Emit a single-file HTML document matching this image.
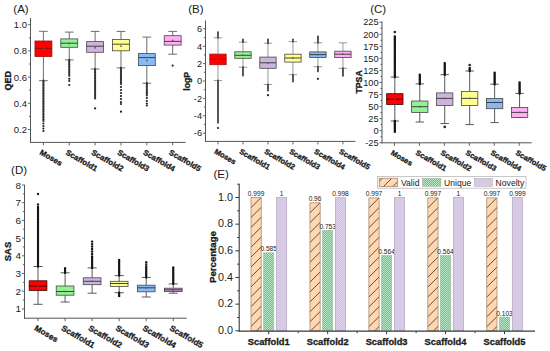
<!DOCTYPE html><html><head><meta charset="utf-8"><style>html,body{margin:0;padding:0;background:#fff;overflow:hidden}svg{display:block}text{font-family:"Liberation Sans", sans-serif}</style></head><body>
<svg width="550" height="351" viewBox="0 0 550 351">
<defs><pattern id="hatch" patternUnits="userSpaceOnUse" width="12" height="12" patternTransform="rotate(0)"><rect width="12" height="12" fill="#ffd9b0"/><path d="M-3,3 L3,-3 M0,12 L12,0 M9,15 L15,9" stroke="#5a4a3a" stroke-width="0.8"/></pattern><pattern id="dots" patternUnits="userSpaceOnUse" width="2" height="2"><rect width="2" height="2" fill="#6cc08a"/><rect width="1" height="1" fill="#b6e8c6"/><rect x="1" y="1" width="1" height="1" fill="#b6e8c6"/></pattern><pattern id="cross" patternUnits="userSpaceOnUse" width="2" height="2"><rect width="2" height="2" fill="#d2c3e3"/><rect width="1" height="1" fill="#dcd0eb"/><rect x="1" y="1" width="1" height="1" fill="#dcd0eb"/></pattern></defs>
<rect width="550" height="351" fill="#fff"/>
<line x1="43.42" y1="31.3" x2="43.42" y2="41" stroke="#6e6e6e" stroke-width="1"/>
<line x1="43.42" y1="56.5" x2="43.42" y2="80.7" stroke="#6e6e6e" stroke-width="1"/>
<line x1="39.08" y1="31.3" x2="47.77" y2="31.3" stroke="#6e6e6e" stroke-width="1"/>
<line x1="39.08" y1="80.7" x2="47.77" y2="80.7" stroke="#6e6e6e" stroke-width="1"/>
<rect x="42.72" y="80.7" width="1.4" height="40.3" fill="#444" stroke="none" stroke-width="0"/>
<path d="M43.42,80.7h0 M43.42,82.31h0 M43.42,83.92h0 M43.42,85.54h0 M43.42,87.15h0 M43.42,88.76h0 M43.42,90.37h0 M43.42,91.98h0 M43.42,93.6h0 M43.42,95.21h0 M43.42,96.82h0 M43.42,98.43h0 M43.42,100.04h0 M43.42,101.66h0 M43.42,103.27h0 M43.42,104.88h0 M43.42,106.49h0 M43.42,108.1h0 M43.42,109.72h0 M43.42,111.33h0 M43.42,112.94h0 M43.42,114.55h0 M43.42,116.16h0 M43.42,117.78h0 M43.42,119.39h0 M43.42,121h0" stroke="#303030" stroke-width="2.2" stroke-linecap="round"/>
<circle cx="43.42" cy="123.5" r="1.1" fill="#222222"/>
<circle cx="43.42" cy="126" r="1.1" fill="#222222"/>
<circle cx="43.42" cy="128.5" r="1.1" fill="#222222"/>
<circle cx="43.42" cy="131" r="1.1" fill="#222222"/>
<rect x="34.96" y="41" width="16.93" height="15.5" fill="#ff0000" stroke="#9a1010" stroke-width="0.8"/>
<line x1="34.96" y1="48.4" x2="51.89" y2="48.4" stroke="#8a0a0a" stroke-width="0.9"/>
<rect x="42.67" y="48.05" width="1.5" height="1.5" fill="#555"/>
<line x1="69.28" y1="32.1" x2="69.28" y2="38.9" stroke="#6e6e6e" stroke-width="1"/>
<line x1="69.28" y1="47.3" x2="69.28" y2="59.9" stroke="#6e6e6e" stroke-width="1"/>
<line x1="64.93" y1="32.1" x2="73.62" y2="32.1" stroke="#6e6e6e" stroke-width="1"/>
<line x1="64.93" y1="59.9" x2="73.62" y2="59.9" stroke="#6e6e6e" stroke-width="1"/>
<rect x="68.58" y="59.9" width="1.4" height="15.9" fill="#444" stroke="none" stroke-width="0"/>
<path d="M69.28,59.9h0 M69.28,61.49h0 M69.28,63.08h0 M69.28,64.67h0 M69.28,66.26h0 M69.28,67.85h0 M69.28,69.44h0 M69.28,71.03h0 M69.28,72.62h0 M69.28,74.21h0 M69.28,75.8h0" stroke="#303030" stroke-width="2.2" stroke-linecap="round"/>
<circle cx="69.28" cy="78.8" r="1.1" fill="#222222"/>
<circle cx="69.28" cy="81" r="1.1" fill="#222222"/>
<circle cx="69.28" cy="85" r="1.1" fill="#222222"/>
<rect x="60.81" y="38.9" width="16.93" height="8.4" fill="#94f094" stroke="#474747" stroke-width="0.8"/>
<line x1="60.81" y1="43.2" x2="77.74" y2="43.2" stroke="#333" stroke-width="0.9"/>
<rect x="68.53" y="42.75" width="1.5" height="1.5" fill="#555"/>
<line x1="95.12" y1="31.4" x2="95.12" y2="41.6" stroke="#6e6e6e" stroke-width="1"/>
<line x1="95.12" y1="52.3" x2="95.12" y2="69" stroke="#6e6e6e" stroke-width="1"/>
<line x1="90.78" y1="31.4" x2="99.47" y2="31.4" stroke="#6e6e6e" stroke-width="1"/>
<line x1="90.78" y1="69" x2="99.47" y2="69" stroke="#6e6e6e" stroke-width="1"/>
<rect x="94.42" y="69" width="1.4" height="29.5" fill="#444" stroke="none" stroke-width="0"/>
<path d="M95.12,69h0 M95.12,70.64h0 M95.12,72.28h0 M95.12,73.92h0 M95.12,75.56h0 M95.12,77.19h0 M95.12,78.83h0 M95.12,80.47h0 M95.12,82.11h0 M95.12,83.75h0 M95.12,85.39h0 M95.12,87.03h0 M95.12,88.67h0 M95.12,90.31h0 M95.12,91.94h0 M95.12,93.58h0 M95.12,95.22h0 M95.12,96.86h0 M95.12,98.5h0" stroke="#303030" stroke-width="2.2" stroke-linecap="round"/>
<circle cx="95.12" cy="108.4" r="1.1" fill="#222222"/>
<rect x="86.66" y="41.6" width="16.93" height="10.7" fill="#ccb4de" stroke="#474747" stroke-width="0.8"/>
<line x1="86.66" y1="46.2" x2="103.59" y2="46.2" stroke="#333" stroke-width="0.9"/>
<rect x="94.38" y="47.05" width="1.5" height="1.5" fill="#555"/>
<line x1="120.97" y1="31.4" x2="120.97" y2="39.4" stroke="#6e6e6e" stroke-width="1"/>
<line x1="120.97" y1="50.8" x2="120.97" y2="67.9" stroke="#6e6e6e" stroke-width="1"/>
<line x1="116.63" y1="31.4" x2="125.32" y2="31.4" stroke="#6e6e6e" stroke-width="1"/>
<line x1="116.63" y1="67.9" x2="125.32" y2="67.9" stroke="#6e6e6e" stroke-width="1"/>
<rect x="120.27" y="67.9" width="1.4" height="16.2" fill="#444" stroke="none" stroke-width="0"/>
<path d="M120.97,67.9h0 M120.97,69.52h0 M120.97,71.14h0 M120.97,72.76h0 M120.97,74.38h0 M120.97,76h0 M120.97,77.62h0 M120.97,79.24h0 M120.97,80.86h0 M120.97,82.48h0 M120.97,84.1h0" stroke="#303030" stroke-width="2.2" stroke-linecap="round"/>
<circle cx="120.97" cy="87" r="1.1" fill="#222222"/>
<circle cx="120.97" cy="90" r="1.1" fill="#222222"/>
<circle cx="120.97" cy="93" r="1.1" fill="#222222"/>
<circle cx="120.97" cy="96" r="1.1" fill="#222222"/>
<circle cx="120.97" cy="99" r="1.1" fill="#222222"/>
<circle cx="120.97" cy="102" r="1.1" fill="#222222"/>
<circle cx="120.97" cy="104" r="1.1" fill="#222222"/>
<circle cx="120.97" cy="111.7" r="1.1" fill="#222222"/>
<rect x="112.51" y="39.4" width="16.93" height="11.4" fill="#ffff8e" stroke="#474747" stroke-width="0.8"/>
<line x1="112.51" y1="44.2" x2="129.44" y2="44.2" stroke="#333" stroke-width="0.9"/>
<rect x="120.22" y="45.45" width="1.5" height="1.5" fill="#555"/>
<line x1="146.82" y1="37.1" x2="146.82" y2="53.6" stroke="#6e6e6e" stroke-width="1"/>
<line x1="146.82" y1="65.6" x2="146.82" y2="83.2" stroke="#6e6e6e" stroke-width="1"/>
<line x1="142.48" y1="37.1" x2="151.17" y2="37.1" stroke="#6e6e6e" stroke-width="1"/>
<line x1="142.48" y1="83.2" x2="151.17" y2="83.2" stroke="#6e6e6e" stroke-width="1"/>
<rect x="146.12" y="83.2" width="1.4" height="12.3" fill="#444" stroke="none" stroke-width="0"/>
<path d="M146.82,83.2h0 M146.82,84.74h0 M146.82,86.28h0 M146.82,87.81h0 M146.82,89.35h0 M146.82,90.89h0 M146.82,92.42h0 M146.82,93.96h0 M146.82,95.5h0" stroke="#303030" stroke-width="2.2" stroke-linecap="round"/>
<circle cx="146.82" cy="98" r="1.1" fill="#222222"/>
<circle cx="146.82" cy="101" r="1.1" fill="#222222"/>
<circle cx="146.82" cy="103.5" r="1.1" fill="#222222"/>
<circle cx="146.82" cy="105.5" r="1.1" fill="#222222"/>
<rect x="138.36" y="53.6" width="16.93" height="12" fill="#88b8f5" stroke="#474747" stroke-width="0.8"/>
<line x1="138.36" y1="57.6" x2="155.29" y2="57.6" stroke="#333" stroke-width="0.9"/>
<rect x="146.07" y="59.75" width="1.5" height="1.5" fill="#555"/>
<line x1="172.67" y1="31.4" x2="172.67" y2="35.7" stroke="#6e6e6e" stroke-width="1"/>
<line x1="172.67" y1="45.1" x2="172.67" y2="54.2" stroke="#6e6e6e" stroke-width="1"/>
<line x1="168.33" y1="31.4" x2="177.02" y2="31.4" stroke="#6e6e6e" stroke-width="1"/>
<line x1="168.33" y1="54.2" x2="177.02" y2="54.2" stroke="#6e6e6e" stroke-width="1"/>
<circle cx="172.67" cy="65.6" r="1.1" fill="#222222"/>
<rect x="164.21" y="35.7" width="16.93" height="9.4" fill="#ffaef4" stroke="#474747" stroke-width="0.8"/>
<line x1="164.21" y1="41.4" x2="181.14" y2="41.4" stroke="#333" stroke-width="0.9"/>
<rect x="171.92" y="39.75" width="1.5" height="1.5" fill="#555"/>
<line x1="30.5" y1="18" x2="30.5" y2="142.9" stroke="#555555" stroke-width="1"/>
<line x1="30" y1="142.4" x2="185.6" y2="142.4" stroke="#555555" stroke-width="1"/>
<line x1="27.9" y1="24.7" x2="30.5" y2="24.7" stroke="#555555" stroke-width="0.9"/>
<text x="27" y="28.12" font-size="9.51" text-anchor="end" fill="#1a1a1a">1.0</text>
<line x1="27.9" y1="50.9" x2="30.5" y2="50.9" stroke="#555555" stroke-width="0.9"/>
<text x="27" y="54.32" font-size="9.51" text-anchor="end" fill="#1a1a1a">0.8</text>
<line x1="27.9" y1="77.1" x2="30.5" y2="77.1" stroke="#555555" stroke-width="0.9"/>
<text x="27" y="80.52" font-size="9.51" text-anchor="end" fill="#1a1a1a">0.6</text>
<line x1="27.9" y1="103.3" x2="30.5" y2="103.3" stroke="#555555" stroke-width="0.9"/>
<text x="27" y="106.72" font-size="9.51" text-anchor="end" fill="#1a1a1a">0.4</text>
<line x1="27.9" y1="129.5" x2="30.5" y2="129.5" stroke="#555555" stroke-width="0.9"/>
<text x="27" y="132.92" font-size="9.51" text-anchor="end" fill="#1a1a1a">0.2</text>
<line x1="28.9" y1="37.8" x2="30.5" y2="37.8" stroke="#555555" stroke-width="0.9"/>
<line x1="28.9" y1="64" x2="30.5" y2="64" stroke="#555555" stroke-width="0.9"/>
<line x1="28.9" y1="90.2" x2="30.5" y2="90.2" stroke="#555555" stroke-width="0.9"/>
<line x1="28.9" y1="116.4" x2="30.5" y2="116.4" stroke="#555555" stroke-width="0.9"/>
<line x1="43.42" y1="142.4" x2="43.42" y2="145.4" stroke="#555555" stroke-width="0.9"/>
<line x1="69.28" y1="142.4" x2="69.28" y2="145.4" stroke="#555555" stroke-width="0.9"/>
<line x1="95.12" y1="142.4" x2="95.12" y2="145.4" stroke="#555555" stroke-width="0.9"/>
<line x1="120.97" y1="142.4" x2="120.97" y2="145.4" stroke="#555555" stroke-width="0.9"/>
<line x1="146.82" y1="142.4" x2="146.82" y2="145.4" stroke="#555555" stroke-width="0.9"/>
<line x1="172.67" y1="142.4" x2="172.67" y2="145.4" stroke="#555555" stroke-width="0.9"/>
<text x="39.12" y="153.9" font-size="7.86" text-anchor="start" font-weight="bold" stroke="#1a1a1a" stroke-width="0.3" fill="#1a1a1a" transform="rotate(30 39.12 153.9)">Moses</text>
<text x="64.98" y="153.9" font-size="7.86" text-anchor="start" font-weight="bold" stroke="#1a1a1a" stroke-width="0.3" fill="#1a1a1a" transform="rotate(30 64.98 153.9)">Scaffold1</text>
<text x="90.83" y="153.9" font-size="7.86" text-anchor="start" font-weight="bold" stroke="#1a1a1a" stroke-width="0.3" fill="#1a1a1a" transform="rotate(30 90.83 153.9)">Scaffold2</text>
<text x="116.67" y="153.9" font-size="7.86" text-anchor="start" font-weight="bold" stroke="#1a1a1a" stroke-width="0.3" fill="#1a1a1a" transform="rotate(30 116.67 153.9)">Scaffold3</text>
<text x="142.52" y="153.9" font-size="7.86" text-anchor="start" font-weight="bold" stroke="#1a1a1a" stroke-width="0.3" fill="#1a1a1a" transform="rotate(30 142.52 153.9)">Scaffold4</text>
<text x="168.37" y="153.9" font-size="7.86" text-anchor="start" font-weight="bold" stroke="#1a1a1a" stroke-width="0.3" fill="#1a1a1a" transform="rotate(30 168.37 153.9)">Scaffold5</text>
<text x="11.2" y="80.8" font-size="9.05" text-anchor="middle" font-weight="bold" stroke="#1a1a1a" stroke-width="0.3" fill="#1a1a1a" transform="rotate(-90 11.2 80.8)">QED</text>
<text x="13.3" y="12.9" font-size="11.5" text-anchor="start" fill="#1a1a1a">(A)</text>
<line x1="217.99" y1="37.8" x2="217.99" y2="54.1" stroke="#9a9a9a" stroke-width="1"/>
<line x1="217.99" y1="64.7" x2="217.99" y2="80.6" stroke="#9a9a9a" stroke-width="1"/>
<line x1="213.79" y1="37.8" x2="222.19" y2="37.8" stroke="#9a9a9a" stroke-width="1"/>
<line x1="213.79" y1="80.6" x2="222.19" y2="80.6" stroke="#9a9a9a" stroke-width="1"/>
<rect x="217.29" y="32.2" width="1.4" height="5.6" fill="#666" stroke="none" stroke-width="0"/>
<path d="M217.99,32.2h0 M217.99,34.07h0 M217.99,35.93h0 M217.99,37.8h0" stroke="#4a4a4a" stroke-width="2" stroke-linecap="round"/>
<rect x="217.29" y="80.6" width="1.4" height="42.1" fill="#666" stroke="none" stroke-width="0"/>
<path d="M217.99,80.6h0 M217.99,82.22h0 M217.99,83.84h0 M217.99,85.46h0 M217.99,87.08h0 M217.99,88.7h0 M217.99,90.32h0 M217.99,91.93h0 M217.99,93.55h0 M217.99,95.17h0 M217.99,96.79h0 M217.99,98.41h0 M217.99,100.03h0 M217.99,101.65h0 M217.99,103.27h0 M217.99,104.89h0 M217.99,106.51h0 M217.99,108.13h0 M217.99,109.75h0 M217.99,111.37h0 M217.99,112.98h0 M217.99,114.6h0 M217.99,116.22h0 M217.99,117.84h0 M217.99,119.46h0 M217.99,121.08h0 M217.99,122.7h0" stroke="#4a4a4a" stroke-width="2" stroke-linecap="round"/>
<circle cx="217.99" cy="128" r="1.1" fill="#222222"/>
<rect x="209.81" y="54.1" width="16.36" height="10.6" fill="#ff0000" stroke="#a01010" stroke-width="0.8"/>
<line x1="209.81" y1="59.2" x2="226.17" y2="59.2" stroke="#b80000" stroke-width="0.9"/>
<rect x="217.24" y="58.45" width="1.5" height="1.5" fill="#555"/>
<line x1="242.97" y1="42.1" x2="242.97" y2="51.8" stroke="#9a9a9a" stroke-width="1"/>
<line x1="242.97" y1="58.3" x2="242.97" y2="67.2" stroke="#9a9a9a" stroke-width="1"/>
<line x1="238.78" y1="42.1" x2="247.17" y2="42.1" stroke="#9a9a9a" stroke-width="1"/>
<line x1="238.78" y1="67.2" x2="247.17" y2="67.2" stroke="#9a9a9a" stroke-width="1"/>
<rect x="242.28" y="39.5" width="1.4" height="2.6" fill="#666" stroke="none" stroke-width="0"/>
<path d="M242.97,39.5h0 M242.97,40.8h0 M242.97,42.1h0" stroke="#4a4a4a" stroke-width="2" stroke-linecap="round"/>
<rect x="242.28" y="67.2" width="1.4" height="8.2" fill="#666" stroke="none" stroke-width="0"/>
<path d="M242.97,67.2h0 M242.97,68.84h0 M242.97,70.48h0 M242.97,72.12h0 M242.97,73.76h0 M242.97,75.4h0" stroke="#4a4a4a" stroke-width="2" stroke-linecap="round"/>
<rect x="234.79" y="51.8" width="16.36" height="6.5" fill="#94f094" stroke="#474747" stroke-width="0.8"/>
<line x1="234.79" y1="55.3" x2="251.16" y2="55.3" stroke="#333" stroke-width="0.9"/>
<rect x="242.22" y="54.55" width="1.5" height="1.5" fill="#555"/>
<line x1="267.96" y1="43.2" x2="267.96" y2="57.1" stroke="#9a9a9a" stroke-width="1"/>
<line x1="267.96" y1="68.3" x2="267.96" y2="84.5" stroke="#9a9a9a" stroke-width="1"/>
<line x1="263.76" y1="43.2" x2="272.16" y2="43.2" stroke="#9a9a9a" stroke-width="1"/>
<line x1="263.76" y1="84.5" x2="272.16" y2="84.5" stroke="#9a9a9a" stroke-width="1"/>
<rect x="267.26" y="39.4" width="1.4" height="3.8" fill="#666" stroke="none" stroke-width="0"/>
<path d="M267.96,39.4h0 M267.96,41.3h0 M267.96,43.2h0" stroke="#4a4a4a" stroke-width="2" stroke-linecap="round"/>
<rect x="267.26" y="84.5" width="1.4" height="6.1" fill="#666" stroke="none" stroke-width="0"/>
<path d="M267.96,84.5h0 M267.96,86.03h0 M267.96,87.55h0 M267.96,89.07h0 M267.96,90.6h0" stroke="#4a4a4a" stroke-width="2" stroke-linecap="round"/>
<circle cx="267.96" cy="95.2" r="1.1" fill="#222222"/>
<rect x="259.78" y="57.1" width="16.36" height="11.2" fill="#ccb4de" stroke="#474747" stroke-width="0.8"/>
<line x1="259.78" y1="62.8" x2="276.14" y2="62.8" stroke="#333" stroke-width="0.9"/>
<rect x="267.21" y="62.05" width="1.5" height="1.5" fill="#555"/>
<line x1="292.94" y1="41.6" x2="292.94" y2="54.2" stroke="#9a9a9a" stroke-width="1"/>
<line x1="292.94" y1="62.1" x2="292.94" y2="74.7" stroke="#9a9a9a" stroke-width="1"/>
<line x1="288.74" y1="41.6" x2="297.14" y2="41.6" stroke="#9a9a9a" stroke-width="1"/>
<line x1="288.74" y1="74.7" x2="297.14" y2="74.7" stroke="#9a9a9a" stroke-width="1"/>
<rect x="292.24" y="39.4" width="1.4" height="2.2" fill="#666" stroke="none" stroke-width="0"/>
<path d="M292.94,39.4h0 M292.94,41.6h0" stroke="#4a4a4a" stroke-width="2" stroke-linecap="round"/>
<rect x="292.24" y="74.7" width="1.4" height="6.8" fill="#666" stroke="none" stroke-width="0"/>
<path d="M292.94,74.7h0 M292.94,76.4h0 M292.94,78.1h0 M292.94,79.8h0 M292.94,81.5h0" stroke="#4a4a4a" stroke-width="2" stroke-linecap="round"/>
<rect x="284.76" y="54.2" width="16.36" height="7.9" fill="#ffff8e" stroke="#474747" stroke-width="0.8"/>
<line x1="284.76" y1="58" x2="301.12" y2="58" stroke="#333" stroke-width="0.9"/>
<rect x="292.19" y="57.25" width="1.5" height="1.5" fill="#555"/>
<line x1="317.92" y1="42.8" x2="317.92" y2="51.9" stroke="#9a9a9a" stroke-width="1"/>
<line x1="317.92" y1="57.6" x2="317.92" y2="66.7" stroke="#9a9a9a" stroke-width="1"/>
<line x1="313.73" y1="42.8" x2="322.12" y2="42.8" stroke="#9a9a9a" stroke-width="1"/>
<line x1="313.73" y1="66.7" x2="322.12" y2="66.7" stroke="#9a9a9a" stroke-width="1"/>
<rect x="317.22" y="36.4" width="1.4" height="6.4" fill="#666" stroke="none" stroke-width="0"/>
<path d="M317.92,36.4h0 M317.92,38h0 M317.92,39.6h0 M317.92,41.2h0 M317.92,42.8h0" stroke="#4a4a4a" stroke-width="2" stroke-linecap="round"/>
<rect x="317.22" y="66.7" width="1.4" height="4.5" fill="#666" stroke="none" stroke-width="0"/>
<path d="M317.92,66.7h0 M317.92,68.2h0 M317.92,69.7h0 M317.92,71.2h0" stroke="#4a4a4a" stroke-width="2" stroke-linecap="round"/>
<circle cx="317.92" cy="78.8" r="1.1" fill="#222222"/>
<rect x="309.74" y="51.9" width="16.36" height="5.7" fill="#88b8f5" stroke="#474747" stroke-width="0.8"/>
<line x1="309.74" y1="54.6" x2="326.11" y2="54.6" stroke="#333" stroke-width="0.9"/>
<rect x="317.17" y="53.85" width="1.5" height="1.5" fill="#555"/>
<line x1="342.91" y1="42.8" x2="342.91" y2="51.2" stroke="#9a9a9a" stroke-width="1"/>
<line x1="342.91" y1="57.6" x2="342.91" y2="68.3" stroke="#9a9a9a" stroke-width="1"/>
<line x1="338.71" y1="42.8" x2="347.11" y2="42.8" stroke="#9a9a9a" stroke-width="1"/>
<line x1="338.71" y1="68.3" x2="347.11" y2="68.3" stroke="#9a9a9a" stroke-width="1"/>
<rect x="342.21" y="68.3" width="1.4" height="7.5" fill="#666" stroke="none" stroke-width="0"/>
<path d="M342.91,68.3h0 M342.91,69.8h0 M342.91,71.3h0 M342.91,72.8h0 M342.91,74.3h0 M342.91,75.8h0" stroke="#4a4a4a" stroke-width="2" stroke-linecap="round"/>
<rect x="334.73" y="51.2" width="16.36" height="6.4" fill="#ffaef4" stroke="#474747" stroke-width="0.8"/>
<line x1="334.73" y1="54.2" x2="351.09" y2="54.2" stroke="#333" stroke-width="0.9"/>
<rect x="342.16" y="53.45" width="1.5" height="1.5" fill="#555"/>
<line x1="205.5" y1="20.5" x2="205.5" y2="141.9" stroke="#555555" stroke-width="1"/>
<line x1="205" y1="141.4" x2="355.4" y2="141.4" stroke="#555555" stroke-width="1"/>
<line x1="202.9" y1="28.92" x2="205.5" y2="28.92" stroke="#555555" stroke-width="0.9"/>
<text x="202" y="32.23" font-size="9.19" text-anchor="end" fill="#1a1a1a">6</text>
<line x1="202.9" y1="46.28" x2="205.5" y2="46.28" stroke="#555555" stroke-width="0.9"/>
<text x="202" y="49.59" font-size="9.19" text-anchor="end" fill="#1a1a1a">4</text>
<line x1="202.9" y1="63.64" x2="205.5" y2="63.64" stroke="#555555" stroke-width="0.9"/>
<text x="202" y="66.95" font-size="9.19" text-anchor="end" fill="#1a1a1a">2</text>
<line x1="202.9" y1="81" x2="205.5" y2="81" stroke="#555555" stroke-width="0.9"/>
<text x="202" y="84.31" font-size="9.19" text-anchor="end" fill="#1a1a1a">0</text>
<line x1="202.9" y1="98.36" x2="205.5" y2="98.36" stroke="#555555" stroke-width="0.9"/>
<text x="202" y="101.67" font-size="9.19" text-anchor="end" fill="#1a1a1a">-2</text>
<line x1="202.9" y1="115.72" x2="205.5" y2="115.72" stroke="#555555" stroke-width="0.9"/>
<text x="202" y="119.03" font-size="9.19" text-anchor="end" fill="#1a1a1a">-4</text>
<line x1="202.9" y1="133.08" x2="205.5" y2="133.08" stroke="#555555" stroke-width="0.9"/>
<text x="202" y="136.39" font-size="9.19" text-anchor="end" fill="#1a1a1a">-6</text>
<line x1="203.9" y1="37.6" x2="205.5" y2="37.6" stroke="#555555" stroke-width="0.9"/>
<line x1="203.9" y1="54.96" x2="205.5" y2="54.96" stroke="#555555" stroke-width="0.9"/>
<line x1="203.9" y1="72.32" x2="205.5" y2="72.32" stroke="#555555" stroke-width="0.9"/>
<line x1="203.9" y1="89.68" x2="205.5" y2="89.68" stroke="#555555" stroke-width="0.9"/>
<line x1="203.9" y1="107.04" x2="205.5" y2="107.04" stroke="#555555" stroke-width="0.9"/>
<line x1="203.9" y1="124.4" x2="205.5" y2="124.4" stroke="#555555" stroke-width="0.9"/>
<line x1="217.99" y1="141.4" x2="217.99" y2="144.4" stroke="#555555" stroke-width="0.9"/>
<line x1="242.97" y1="141.4" x2="242.97" y2="144.4" stroke="#555555" stroke-width="0.9"/>
<line x1="267.96" y1="141.4" x2="267.96" y2="144.4" stroke="#555555" stroke-width="0.9"/>
<line x1="292.94" y1="141.4" x2="292.94" y2="144.4" stroke="#555555" stroke-width="0.9"/>
<line x1="317.92" y1="141.4" x2="317.92" y2="144.4" stroke="#555555" stroke-width="0.9"/>
<line x1="342.91" y1="141.4" x2="342.91" y2="144.4" stroke="#555555" stroke-width="0.9"/>
<text x="213.69" y="152.9" font-size="7.59" text-anchor="start" font-weight="bold" stroke="#1a1a1a" stroke-width="0.3" fill="#1a1a1a" transform="rotate(30 213.69 152.9)">Moses</text>
<text x="238.67" y="152.9" font-size="7.59" text-anchor="start" font-weight="bold" stroke="#1a1a1a" stroke-width="0.3" fill="#1a1a1a" transform="rotate(30 238.67 152.9)">Scaffold1</text>
<text x="263.66" y="152.9" font-size="7.59" text-anchor="start" font-weight="bold" stroke="#1a1a1a" stroke-width="0.3" fill="#1a1a1a" transform="rotate(30 263.66 152.9)">Scaffold2</text>
<text x="288.64" y="152.9" font-size="7.59" text-anchor="start" font-weight="bold" stroke="#1a1a1a" stroke-width="0.3" fill="#1a1a1a" transform="rotate(30 288.64 152.9)">Scaffold3</text>
<text x="313.62" y="152.9" font-size="7.59" text-anchor="start" font-weight="bold" stroke="#1a1a1a" stroke-width="0.3" fill="#1a1a1a" transform="rotate(30 313.62 152.9)">Scaffold4</text>
<text x="338.61" y="152.9" font-size="7.59" text-anchor="start" font-weight="bold" stroke="#1a1a1a" stroke-width="0.3" fill="#1a1a1a" transform="rotate(30 338.61 152.9)">Scaffold5</text>
<text x="190.2" y="81.3" font-size="8.74" text-anchor="middle" font-weight="bold" stroke="#1a1a1a" stroke-width="0.3" fill="#1a1a1a" transform="rotate(-90 190.2 81.3)">logP</text>
<text x="188.2" y="12.6" font-size="11.5" text-anchor="start" fill="#1a1a1a">(B)</text>
<line x1="394.83" y1="77.1" x2="394.83" y2="93.7" stroke="#5a5a5a" stroke-width="1"/>
<line x1="394.83" y1="104.4" x2="394.83" y2="121" stroke="#5a5a5a" stroke-width="1"/>
<line x1="390.63" y1="77.1" x2="399.02" y2="77.1" stroke="#5a5a5a" stroke-width="1"/>
<line x1="390.63" y1="121" x2="399.02" y2="121" stroke="#5a5a5a" stroke-width="1"/>
<rect x="394.13" y="36.5" width="1.4" height="40.6" fill="#1a1a1a" stroke="none" stroke-width="0"/>
<path d="M394.83,36.5h0 M394.83,38.12h0 M394.83,39.75h0 M394.83,41.37h0 M394.83,43h0 M394.83,44.62h0 M394.83,46.24h0 M394.83,47.87h0 M394.83,49.49h0 M394.83,51.12h0 M394.83,52.74h0 M394.83,54.36h0 M394.83,55.99h0 M394.83,57.61h0 M394.83,59.24h0 M394.83,60.86h0 M394.83,62.48h0 M394.83,64.11h0 M394.83,65.73h0 M394.83,67.36h0 M394.83,68.98h0 M394.83,70.6h0 M394.83,72.23h0 M394.83,73.85h0 M394.83,75.48h0 M394.83,77.1h0" stroke="#151515" stroke-width="2.5" stroke-linecap="round"/>
<rect x="394.13" y="121" width="1.4" height="10.8" fill="#1a1a1a" stroke="none" stroke-width="0"/>
<path d="M394.83,121h0 M394.83,122.54h0 M394.83,124.09h0 M394.83,125.63h0 M394.83,127.17h0 M394.83,128.71h0 M394.83,130.26h0 M394.83,131.8h0" stroke="#151515" stroke-width="2.5" stroke-linecap="round"/>
<circle cx="394.83" cy="32" r="1.3" fill="#222222"/>
<rect x="386.65" y="93.7" width="16.34" height="10.7" fill="#ff0000" stroke="#3a0000" stroke-width="0.8"/>
<line x1="386.65" y1="99.2" x2="403" y2="99.2" stroke="#2a0000" stroke-width="0.9"/>
<rect x="394.08" y="98.45" width="1.5" height="1.5" fill="#555"/>
<line x1="419.78" y1="83.9" x2="419.78" y2="101" stroke="#5a5a5a" stroke-width="1"/>
<line x1="419.78" y1="112.4" x2="419.78" y2="122" stroke="#5a5a5a" stroke-width="1"/>
<line x1="415.58" y1="83.9" x2="423.97" y2="83.9" stroke="#5a5a5a" stroke-width="1"/>
<line x1="415.58" y1="122" x2="423.97" y2="122" stroke="#5a5a5a" stroke-width="1"/>
<rect x="419.08" y="74.8" width="1.4" height="9.1" fill="#1a1a1a" stroke="none" stroke-width="0"/>
<path d="M419.78,74.8h0 M419.78,76.32h0 M419.78,77.83h0 M419.78,79.35h0 M419.78,80.87h0 M419.78,82.38h0 M419.78,83.9h0" stroke="#151515" stroke-width="2.5" stroke-linecap="round"/>
<rect x="411.6" y="101" width="16.34" height="11.4" fill="#94f094" stroke="#474747" stroke-width="0.8"/>
<line x1="411.6" y1="106.7" x2="427.95" y2="106.7" stroke="#333" stroke-width="0.9"/>
<rect x="419.03" y="105.95" width="1.5" height="1.5" fill="#555"/>
<line x1="444.73" y1="74.7" x2="444.73" y2="92.9" stroke="#5a5a5a" stroke-width="1"/>
<line x1="444.73" y1="105.5" x2="444.73" y2="123.5" stroke="#5a5a5a" stroke-width="1"/>
<line x1="440.53" y1="74.7" x2="448.92" y2="74.7" stroke="#5a5a5a" stroke-width="1"/>
<line x1="440.53" y1="123.5" x2="448.92" y2="123.5" stroke="#5a5a5a" stroke-width="1"/>
<rect x="444.03" y="63.2" width="1.4" height="11.5" fill="#1a1a1a" stroke="none" stroke-width="0"/>
<path d="M444.73,63.2h0 M444.73,64.84h0 M444.73,66.49h0 M444.73,68.13h0 M444.73,69.77h0 M444.73,71.41h0 M444.73,73.06h0 M444.73,74.7h0" stroke="#151515" stroke-width="2.5" stroke-linecap="round"/>
<circle cx="444.73" cy="126.9" r="1.3" fill="#222222"/>
<rect x="436.55" y="92.9" width="16.34" height="12.6" fill="#ccb4de" stroke="#474747" stroke-width="0.8"/>
<line x1="436.55" y1="98.4" x2="452.9" y2="98.4" stroke="#333" stroke-width="0.9"/>
<rect x="443.98" y="97.65" width="1.5" height="1.5" fill="#555"/>
<line x1="469.68" y1="71" x2="469.68" y2="91.5" stroke="#5a5a5a" stroke-width="1"/>
<line x1="469.68" y1="105.5" x2="469.68" y2="124.6" stroke="#5a5a5a" stroke-width="1"/>
<line x1="465.48" y1="71" x2="473.87" y2="71" stroke="#5a5a5a" stroke-width="1"/>
<line x1="465.48" y1="124.6" x2="473.87" y2="124.6" stroke="#5a5a5a" stroke-width="1"/>
<rect x="468.98" y="68" width="1.4" height="3" fill="#1a1a1a" stroke="none" stroke-width="0"/>
<path d="M469.68,68h0 M469.68,69.5h0 M469.68,71h0" stroke="#151515" stroke-width="2.5" stroke-linecap="round"/>
<circle cx="469.68" cy="65" r="1.3" fill="#222222"/>
<rect x="461.5" y="91.5" width="16.34" height="14" fill="#ffff8e" stroke="#474747" stroke-width="0.8"/>
<line x1="461.5" y1="98.4" x2="477.85" y2="98.4" stroke="#333" stroke-width="0.9"/>
<rect x="468.93" y="97.65" width="1.5" height="1.5" fill="#555"/>
<line x1="494.63" y1="84.2" x2="494.63" y2="98.4" stroke="#5a5a5a" stroke-width="1"/>
<line x1="494.63" y1="108.7" x2="494.63" y2="122.6" stroke="#5a5a5a" stroke-width="1"/>
<line x1="490.43" y1="84.2" x2="498.82" y2="84.2" stroke="#5a5a5a" stroke-width="1"/>
<line x1="490.43" y1="122.6" x2="498.82" y2="122.6" stroke="#5a5a5a" stroke-width="1"/>
<rect x="493.93" y="72.8" width="1.4" height="11.4" fill="#1a1a1a" stroke="none" stroke-width="0"/>
<path d="M494.63,72.8h0 M494.63,74.43h0 M494.63,76.06h0 M494.63,77.69h0 M494.63,79.31h0 M494.63,80.94h0 M494.63,82.57h0 M494.63,84.2h0" stroke="#151515" stroke-width="2.5" stroke-linecap="round"/>
<rect x="486.45" y="98.4" width="16.34" height="10.3" fill="#88b8f5" stroke="#474747" stroke-width="0.8"/>
<line x1="486.45" y1="102.5" x2="502.8" y2="102.5" stroke="#333" stroke-width="0.9"/>
<rect x="493.88" y="101.75" width="1.5" height="1.5" fill="#555"/>
<line x1="519.58" y1="93.4" x2="519.58" y2="107.4" stroke="#5a5a5a" stroke-width="1"/>
<line x1="519.58" y1="117.5" x2="519.58" y2="117.5" stroke="#5a5a5a" stroke-width="1"/>
<line x1="515.38" y1="93.4" x2="523.77" y2="93.4" stroke="#5a5a5a" stroke-width="1"/>
<line x1="515.38" y1="117.5" x2="523.77" y2="117.5" stroke="#5a5a5a" stroke-width="1"/>
<rect x="518.88" y="82.4" width="1.4" height="11" fill="#1a1a1a" stroke="none" stroke-width="0"/>
<path d="M519.58,82.4h0 M519.58,83.97h0 M519.58,85.54h0 M519.58,87.11h0 M519.58,88.69h0 M519.58,90.26h0 M519.58,91.83h0 M519.58,93.4h0" stroke="#151515" stroke-width="2.5" stroke-linecap="round"/>
<rect x="511.4" y="107.4" width="16.34" height="10.1" fill="#ffaef4" stroke="#474747" stroke-width="0.8"/>
<line x1="511.4" y1="112.4" x2="527.75" y2="112.4" stroke="#333" stroke-width="0.9"/>
<rect x="518.83" y="111.65" width="1.5" height="1.5" fill="#555"/>
<line x1="382" y1="21.6" x2="382" y2="143.3" stroke="#555555" stroke-width="1"/>
<line x1="381.5" y1="142.8" x2="531.7" y2="142.8" stroke="#555555" stroke-width="1"/>
<line x1="379.4" y1="22.16" x2="382" y2="22.16" stroke="#555555" stroke-width="0.9"/>
<text x="378.5" y="25.47" font-size="9.18" text-anchor="end" fill="#1a1a1a">225</text>
<line x1="379.4" y1="34.22" x2="382" y2="34.22" stroke="#555555" stroke-width="0.9"/>
<text x="378.5" y="37.53" font-size="9.18" text-anchor="end" fill="#1a1a1a">200</text>
<line x1="379.4" y1="46.28" x2="382" y2="46.28" stroke="#555555" stroke-width="0.9"/>
<text x="378.5" y="49.59" font-size="9.18" text-anchor="end" fill="#1a1a1a">175</text>
<line x1="379.4" y1="58.34" x2="382" y2="58.34" stroke="#555555" stroke-width="0.9"/>
<text x="378.5" y="61.65" font-size="9.18" text-anchor="end" fill="#1a1a1a">150</text>
<line x1="379.4" y1="70.4" x2="382" y2="70.4" stroke="#555555" stroke-width="0.9"/>
<text x="378.5" y="73.71" font-size="9.18" text-anchor="end" fill="#1a1a1a">125</text>
<line x1="379.4" y1="82.46" x2="382" y2="82.46" stroke="#555555" stroke-width="0.9"/>
<text x="378.5" y="85.77" font-size="9.18" text-anchor="end" fill="#1a1a1a">100</text>
<line x1="379.4" y1="94.52" x2="382" y2="94.52" stroke="#555555" stroke-width="0.9"/>
<text x="378.5" y="97.83" font-size="9.18" text-anchor="end" fill="#1a1a1a">75</text>
<line x1="379.4" y1="106.58" x2="382" y2="106.58" stroke="#555555" stroke-width="0.9"/>
<text x="378.5" y="109.89" font-size="9.18" text-anchor="end" fill="#1a1a1a">50</text>
<line x1="379.4" y1="118.64" x2="382" y2="118.64" stroke="#555555" stroke-width="0.9"/>
<text x="378.5" y="121.95" font-size="9.18" text-anchor="end" fill="#1a1a1a">25</text>
<line x1="379.4" y1="130.7" x2="382" y2="130.7" stroke="#555555" stroke-width="0.9"/>
<text x="378.5" y="134.01" font-size="9.18" text-anchor="end" fill="#1a1a1a">0</text>
<line x1="379.4" y1="142.76" x2="382" y2="142.76" stroke="#555555" stroke-width="0.9"/>
<text x="378.5" y="146.07" font-size="9.18" text-anchor="end" fill="#1a1a1a">-25</text>
<line x1="380.4" y1="136.73" x2="382" y2="136.73" stroke="#555555" stroke-width="0.9"/>
<line x1="380.4" y1="124.67" x2="382" y2="124.67" stroke="#555555" stroke-width="0.9"/>
<line x1="380.4" y1="112.61" x2="382" y2="112.61" stroke="#555555" stroke-width="0.9"/>
<line x1="380.4" y1="100.55" x2="382" y2="100.55" stroke="#555555" stroke-width="0.9"/>
<line x1="380.4" y1="88.49" x2="382" y2="88.49" stroke="#555555" stroke-width="0.9"/>
<line x1="380.4" y1="76.43" x2="382" y2="76.43" stroke="#555555" stroke-width="0.9"/>
<line x1="380.4" y1="64.37" x2="382" y2="64.37" stroke="#555555" stroke-width="0.9"/>
<line x1="380.4" y1="52.31" x2="382" y2="52.31" stroke="#555555" stroke-width="0.9"/>
<line x1="380.4" y1="40.25" x2="382" y2="40.25" stroke="#555555" stroke-width="0.9"/>
<line x1="380.4" y1="28.19" x2="382" y2="28.19" stroke="#555555" stroke-width="0.9"/>
<line x1="394.48" y1="142.8" x2="394.48" y2="145.8" stroke="#555555" stroke-width="0.9"/>
<line x1="419.43" y1="142.8" x2="419.43" y2="145.8" stroke="#555555" stroke-width="0.9"/>
<line x1="444.38" y1="142.8" x2="444.38" y2="145.8" stroke="#555555" stroke-width="0.9"/>
<line x1="469.33" y1="142.8" x2="469.33" y2="145.8" stroke="#555555" stroke-width="0.9"/>
<line x1="494.28" y1="142.8" x2="494.28" y2="145.8" stroke="#555555" stroke-width="0.9"/>
<line x1="519.23" y1="142.8" x2="519.23" y2="145.8" stroke="#555555" stroke-width="0.9"/>
<text x="390.18" y="154.3" font-size="7.58" text-anchor="start" font-weight="bold" stroke="#1a1a1a" stroke-width="0.3" fill="#1a1a1a" transform="rotate(30 390.18 154.3)">Moses</text>
<text x="415.12" y="154.3" font-size="7.58" text-anchor="start" font-weight="bold" stroke="#1a1a1a" stroke-width="0.3" fill="#1a1a1a" transform="rotate(30 415.12 154.3)">Scaffold1</text>
<text x="440.07" y="154.3" font-size="7.58" text-anchor="start" font-weight="bold" stroke="#1a1a1a" stroke-width="0.3" fill="#1a1a1a" transform="rotate(30 440.07 154.3)">Scaffold2</text>
<text x="465.03" y="154.3" font-size="7.58" text-anchor="start" font-weight="bold" stroke="#1a1a1a" stroke-width="0.3" fill="#1a1a1a" transform="rotate(30 465.03 154.3)">Scaffold3</text>
<text x="489.98" y="154.3" font-size="7.58" text-anchor="start" font-weight="bold" stroke="#1a1a1a" stroke-width="0.3" fill="#1a1a1a" transform="rotate(30 489.98 154.3)">Scaffold4</text>
<text x="514.93" y="154.3" font-size="7.58" text-anchor="start" font-weight="bold" stroke="#1a1a1a" stroke-width="0.3" fill="#1a1a1a" transform="rotate(30 514.93 154.3)">Scaffold5</text>
<text x="362" y="81.9" font-size="8.73" text-anchor="middle" font-weight="bold" stroke="#1a1a1a" stroke-width="0.3" fill="#1a1a1a" transform="rotate(-90 362 81.9)">TPSA</text>
<text x="370.2" y="12.5" font-size="11.5" text-anchor="start" fill="#1a1a1a">(C)</text>
<line x1="38.02" y1="266.5" x2="38.02" y2="280.8" stroke="#5a5a5a" stroke-width="1"/>
<line x1="38.02" y1="290.4" x2="38.02" y2="304.3" stroke="#5a5a5a" stroke-width="1"/>
<line x1="33.48" y1="266.5" x2="42.57" y2="266.5" stroke="#5a5a5a" stroke-width="1"/>
<line x1="33.48" y1="304.3" x2="42.57" y2="304.3" stroke="#5a5a5a" stroke-width="1"/>
<rect x="37.32" y="206.9" width="1.4" height="59.6" fill="#1a1a1a" stroke="none" stroke-width="0"/>
<path d="M38.02,206.9h0 M38.02,208.51h0 M38.02,210.12h0 M38.02,211.73h0 M38.02,213.34h0 M38.02,214.95h0 M38.02,216.56h0 M38.02,218.18h0 M38.02,219.79h0 M38.02,221.4h0 M38.02,223.01h0 M38.02,224.62h0 M38.02,226.23h0 M38.02,227.84h0 M38.02,229.45h0 M38.02,231.06h0 M38.02,232.67h0 M38.02,234.28h0 M38.02,235.89h0 M38.02,237.51h0 M38.02,239.12h0 M38.02,240.73h0 M38.02,242.34h0 M38.02,243.95h0 M38.02,245.56h0 M38.02,247.17h0 M38.02,248.78h0 M38.02,250.39h0 M38.02,252h0 M38.02,253.61h0 M38.02,255.22h0 M38.02,256.84h0 M38.02,258.45h0 M38.02,260.06h0 M38.02,261.67h0 M38.02,263.28h0 M38.02,264.89h0 M38.02,266.5h0" stroke="#151515" stroke-width="2.4" stroke-linecap="round"/>
<circle cx="38.02" cy="194" r="1.2" fill="#222222"/>
<circle cx="38.02" cy="204.5" r="1.2" fill="#222222"/>
<rect x="29.17" y="280.8" width="17.72" height="9.6" fill="#ff0000" stroke="#3a0000" stroke-width="0.8"/>
<line x1="29.17" y1="286" x2="46.88" y2="286" stroke="#2a0000" stroke-width="0.9"/>
<rect x="37.27" y="285.25" width="1.5" height="1.5" fill="#555"/>
<line x1="65.08" y1="272.8" x2="65.08" y2="286" stroke="#5a5a5a" stroke-width="1"/>
<line x1="65.08" y1="295.2" x2="65.08" y2="302" stroke="#5a5a5a" stroke-width="1"/>
<line x1="60.53" y1="272.8" x2="69.62" y2="272.8" stroke="#5a5a5a" stroke-width="1"/>
<line x1="60.53" y1="302" x2="69.62" y2="302" stroke="#5a5a5a" stroke-width="1"/>
<rect x="64.38" y="268.3" width="1.4" height="4.5" fill="#1a1a1a" stroke="none" stroke-width="0"/>
<path d="M65.08,268.3h0 M65.08,269.8h0 M65.08,271.3h0 M65.08,272.8h0" stroke="#151515" stroke-width="2.4" stroke-linecap="round"/>
<rect x="56.22" y="286" width="17.72" height="9.2" fill="#94f094" stroke="#474747" stroke-width="0.8"/>
<line x1="56.22" y1="291.5" x2="73.93" y2="291.5" stroke="#333" stroke-width="0.9"/>
<rect x="64.33" y="290.75" width="1.5" height="1.5" fill="#555"/>
<line x1="92.12" y1="267.9" x2="92.12" y2="277.8" stroke="#5a5a5a" stroke-width="1"/>
<line x1="92.12" y1="284.7" x2="92.12" y2="293.2" stroke="#5a5a5a" stroke-width="1"/>
<line x1="87.58" y1="267.9" x2="96.67" y2="267.9" stroke="#5a5a5a" stroke-width="1"/>
<line x1="87.58" y1="293.2" x2="96.67" y2="293.2" stroke="#5a5a5a" stroke-width="1"/>
<rect x="91.42" y="258" width="1.4" height="9.9" fill="#1a1a1a" stroke="none" stroke-width="0"/>
<path d="M92.12,258h0 M92.12,259.65h0 M92.12,261.3h0 M92.12,262.95h0 M92.12,264.6h0 M92.12,266.25h0 M92.12,267.9h0" stroke="#151515" stroke-width="2.4" stroke-linecap="round"/>
<circle cx="92.12" cy="241.6" r="1.2" fill="#151515"/>
<circle cx="92.12" cy="244.08" r="1.2" fill="#151515"/>
<circle cx="92.12" cy="246.57" r="1.2" fill="#151515"/>
<circle cx="92.12" cy="249.05" r="1.2" fill="#151515"/>
<circle cx="92.12" cy="251.53" r="1.2" fill="#151515"/>
<circle cx="92.12" cy="254.02" r="1.2" fill="#151515"/>
<circle cx="92.12" cy="256.5" r="1.2" fill="#151515"/>
<rect x="83.27" y="277.8" width="17.72" height="6.9" fill="#ccb4de" stroke="#474747" stroke-width="0.8"/>
<line x1="83.27" y1="281.3" x2="100.98" y2="281.3" stroke="#333" stroke-width="0.9"/>
<rect x="91.38" y="280.55" width="1.5" height="1.5" fill="#555"/>
<line x1="119.17" y1="275.6" x2="119.17" y2="281.3" stroke="#5a5a5a" stroke-width="1"/>
<line x1="119.17" y1="286.4" x2="119.17" y2="292.7" stroke="#5a5a5a" stroke-width="1"/>
<line x1="114.63" y1="275.6" x2="123.72" y2="275.6" stroke="#5a5a5a" stroke-width="1"/>
<line x1="114.63" y1="292.7" x2="123.72" y2="292.7" stroke="#5a5a5a" stroke-width="1"/>
<rect x="118.47" y="259.9" width="1.4" height="15.7" fill="#1a1a1a" stroke="none" stroke-width="0"/>
<path d="M119.17,259.9h0 M119.17,261.47h0 M119.17,263.04h0 M119.17,264.61h0 M119.17,266.18h0 M119.17,267.75h0 M119.17,269.32h0 M119.17,270.89h0 M119.17,272.46h0 M119.17,274.03h0 M119.17,275.6h0" stroke="#151515" stroke-width="2.4" stroke-linecap="round"/>
<rect x="118.47" y="292.7" width="1.4" height="3.3" fill="#1a1a1a" stroke="none" stroke-width="0"/>
<path d="M119.17,292.7h0 M119.17,294.35h0 M119.17,296h0" stroke="#151515" stroke-width="2.4" stroke-linecap="round"/>
<rect x="110.32" y="281.3" width="17.72" height="5.1" fill="#ffff8e" stroke="#474747" stroke-width="0.8"/>
<line x1="110.32" y1="283.5" x2="128.03" y2="283.5" stroke="#333" stroke-width="0.9"/>
<rect x="118.42" y="282.75" width="1.5" height="1.5" fill="#555"/>
<line x1="146.23" y1="277.4" x2="146.23" y2="285.2" stroke="#5a5a5a" stroke-width="1"/>
<line x1="146.23" y1="291.8" x2="146.23" y2="297" stroke="#5a5a5a" stroke-width="1"/>
<line x1="141.68" y1="277.4" x2="150.77" y2="277.4" stroke="#5a5a5a" stroke-width="1"/>
<line x1="141.68" y1="297" x2="150.77" y2="297" stroke="#5a5a5a" stroke-width="1"/>
<rect x="145.53" y="268" width="1.4" height="9.4" fill="#1a1a1a" stroke="none" stroke-width="0"/>
<path d="M146.23,268h0 M146.23,269.57h0 M146.23,271.13h0 M146.23,272.7h0 M146.23,274.27h0 M146.23,275.83h0 M146.23,277.4h0" stroke="#151515" stroke-width="2.4" stroke-linecap="round"/>
<circle cx="146.23" cy="262.2" r="1.2" fill="#222222"/>
<circle cx="146.23" cy="264.5" r="1.2" fill="#222222"/>
<circle cx="146.23" cy="266.5" r="1.2" fill="#222222"/>
<rect x="137.37" y="285.2" width="17.72" height="6.6" fill="#88b8f5" stroke="#474747" stroke-width="0.8"/>
<line x1="137.37" y1="287.8" x2="155.08" y2="287.8" stroke="#333" stroke-width="0.9"/>
<rect x="145.48" y="287.05" width="1.5" height="1.5" fill="#555"/>
<line x1="173.28" y1="283.9" x2="173.28" y2="288.2" stroke="#5a5a5a" stroke-width="1"/>
<line x1="173.28" y1="291.6" x2="173.28" y2="293.2" stroke="#5a5a5a" stroke-width="1"/>
<line x1="168.73" y1="283.9" x2="177.82" y2="283.9" stroke="#5a5a5a" stroke-width="1"/>
<line x1="168.73" y1="293.2" x2="177.82" y2="293.2" stroke="#5a5a5a" stroke-width="1"/>
<rect x="172.58" y="267.5" width="1.4" height="16.4" fill="#1a1a1a" stroke="none" stroke-width="0"/>
<path d="M173.28,267.5h0 M173.28,269.14h0 M173.28,270.78h0 M173.28,272.42h0 M173.28,274.06h0 M173.28,275.7h0 M173.28,277.34h0 M173.28,278.98h0 M173.28,280.62h0 M173.28,282.26h0 M173.28,283.9h0" stroke="#151515" stroke-width="2.4" stroke-linecap="round"/>
<rect x="164.42" y="288.2" width="17.72" height="3.4" fill="#d49ad6" stroke="#474747" stroke-width="0.8"/>
<line x1="164.42" y1="289.8" x2="182.13" y2="289.8" stroke="#333" stroke-width="0.9"/>
<rect x="172.53" y="289.05" width="1.5" height="1.5" fill="#555"/>
<line x1="24.5" y1="184.8" x2="24.5" y2="318.7" stroke="#555555" stroke-width="1"/>
<line x1="24" y1="318.2" x2="186.8" y2="318.2" stroke="#555555" stroke-width="1"/>
<line x1="21.9" y1="185" x2="24.5" y2="185" stroke="#555555" stroke-width="0.9"/>
<text x="21" y="188.58" font-size="9.95" text-anchor="end" fill="#1a1a1a">8</text>
<line x1="21.9" y1="202.7" x2="24.5" y2="202.7" stroke="#555555" stroke-width="0.9"/>
<text x="21" y="206.28" font-size="9.95" text-anchor="end" fill="#1a1a1a">7</text>
<line x1="21.9" y1="220.4" x2="24.5" y2="220.4" stroke="#555555" stroke-width="0.9"/>
<text x="21" y="223.98" font-size="9.95" text-anchor="end" fill="#1a1a1a">6</text>
<line x1="21.9" y1="238.1" x2="24.5" y2="238.1" stroke="#555555" stroke-width="0.9"/>
<text x="21" y="241.68" font-size="9.95" text-anchor="end" fill="#1a1a1a">5</text>
<line x1="21.9" y1="255.8" x2="24.5" y2="255.8" stroke="#555555" stroke-width="0.9"/>
<text x="21" y="259.38" font-size="9.95" text-anchor="end" fill="#1a1a1a">4</text>
<line x1="21.9" y1="273.5" x2="24.5" y2="273.5" stroke="#555555" stroke-width="0.9"/>
<text x="21" y="277.08" font-size="9.95" text-anchor="end" fill="#1a1a1a">3</text>
<line x1="21.9" y1="291.2" x2="24.5" y2="291.2" stroke="#555555" stroke-width="0.9"/>
<text x="21" y="294.78" font-size="9.95" text-anchor="end" fill="#1a1a1a">2</text>
<line x1="21.9" y1="308.9" x2="24.5" y2="308.9" stroke="#555555" stroke-width="0.9"/>
<text x="21" y="312.48" font-size="9.95" text-anchor="end" fill="#1a1a1a">1</text>
<line x1="22.9" y1="193.85" x2="24.5" y2="193.85" stroke="#555555" stroke-width="0.9"/>
<line x1="22.9" y1="211.55" x2="24.5" y2="211.55" stroke="#555555" stroke-width="0.9"/>
<line x1="22.9" y1="229.25" x2="24.5" y2="229.25" stroke="#555555" stroke-width="0.9"/>
<line x1="22.9" y1="246.95" x2="24.5" y2="246.95" stroke="#555555" stroke-width="0.9"/>
<line x1="22.9" y1="264.65" x2="24.5" y2="264.65" stroke="#555555" stroke-width="0.9"/>
<line x1="22.9" y1="282.35" x2="24.5" y2="282.35" stroke="#555555" stroke-width="0.9"/>
<line x1="22.9" y1="300.05" x2="24.5" y2="300.05" stroke="#555555" stroke-width="0.9"/>
<line x1="38.02" y1="318.2" x2="38.02" y2="321.2" stroke="#555555" stroke-width="0.9"/>
<line x1="65.08" y1="318.2" x2="65.08" y2="321.2" stroke="#555555" stroke-width="0.9"/>
<line x1="92.12" y1="318.2" x2="92.12" y2="321.2" stroke="#555555" stroke-width="0.9"/>
<line x1="119.17" y1="318.2" x2="119.17" y2="321.2" stroke="#555555" stroke-width="0.9"/>
<line x1="146.23" y1="318.2" x2="146.23" y2="321.2" stroke="#555555" stroke-width="0.9"/>
<line x1="173.28" y1="318.2" x2="173.28" y2="321.2" stroke="#555555" stroke-width="0.9"/>
<text x="33.73" y="329.7" font-size="8.22" text-anchor="start" font-weight="bold" stroke="#1a1a1a" stroke-width="0.3" fill="#1a1a1a" transform="rotate(30 33.73 329.7)">Moses</text>
<text x="60.78" y="329.7" font-size="8.22" text-anchor="start" font-weight="bold" stroke="#1a1a1a" stroke-width="0.3" fill="#1a1a1a" transform="rotate(30 60.78 329.7)">Scaffold1</text>
<text x="87.83" y="329.7" font-size="8.22" text-anchor="start" font-weight="bold" stroke="#1a1a1a" stroke-width="0.3" fill="#1a1a1a" transform="rotate(30 87.83 329.7)">Scaffold2</text>
<text x="114.88" y="329.7" font-size="8.22" text-anchor="start" font-weight="bold" stroke="#1a1a1a" stroke-width="0.3" fill="#1a1a1a" transform="rotate(30 114.88 329.7)">Scaffold3</text>
<text x="141.93" y="329.7" font-size="8.22" text-anchor="start" font-weight="bold" stroke="#1a1a1a" stroke-width="0.3" fill="#1a1a1a" transform="rotate(30 141.93 329.7)">Scaffold4</text>
<text x="168.97" y="329.7" font-size="8.22" text-anchor="start" font-weight="bold" stroke="#1a1a1a" stroke-width="0.3" fill="#1a1a1a" transform="rotate(30 168.97 329.7)">Scaffold5</text>
<text x="11.2" y="251.5" font-size="9.47" text-anchor="middle" font-weight="bold" stroke="#1a1a1a" stroke-width="0.3" fill="#1a1a1a" transform="rotate(-90 11.2 251.5)">SAS</text>
<text x="11.1" y="173.8" font-size="11.5" text-anchor="start" fill="#1a1a1a">(D)</text>
<clipPath id="hc1"><rect x="251" y="197.63" width="10.2" height="133.17"/></clipPath>
<rect x="251" y="197.63" width="10.2" height="133.17" fill="#ffd8b2" stroke="none" stroke-width="0"/>
<path d="M249,209.63 L263.2,195.43 M249,219.53 L263.2,205.33 M249,229.43 L263.2,215.23 M249,239.33 L263.2,225.13 M249,249.23 L263.2,235.03 M249,259.13 L263.2,244.93 M249,269.03 L263.2,254.83 M249,278.93 L263.2,264.73 M249,288.83 L263.2,274.63 M249,298.73 L263.2,284.53 M249,308.63 L263.2,294.43 M249,318.53 L263.2,304.33 M249,328.43 L263.2,314.23 M249,338.33 L263.2,324.13" stroke="#5e4530" stroke-width="0.95" clip-path="url(#hc1)" fill="none"/>
<rect x="251" y="197.63" width="10.2" height="133.17" fill="none" stroke="#9a8068" stroke-width="0.7"/>
<text x="256.1" y="196.13" font-size="6.6" text-anchor="middle" fill="#222">0.999</text>
<rect x="263.6" y="252.82" width="10.2" height="77.98" fill="url(#dots)" stroke="#9fbfa8" stroke-width="0.7"/>
<text x="268.7" y="251.32" font-size="6.6" text-anchor="middle" fill="#222">0.585</text>
<rect x="276.5" y="197.5" width="10.2" height="133.3" fill="url(#cross)" stroke="#b0a4c0" stroke-width="0.7"/>
<text x="281.6" y="196" font-size="6.6" text-anchor="middle" fill="#222">1</text>
<clipPath id="hc2"><rect x="309.95" y="202.83" width="10.2" height="127.97"/></clipPath>
<rect x="309.95" y="202.83" width="10.2" height="127.97" fill="#ffd8b2" stroke="none" stroke-width="0"/>
<path d="M307.95,214.83 L322.15,200.63 M307.95,224.73 L322.15,210.53 M307.95,234.63 L322.15,220.43 M307.95,244.53 L322.15,230.33 M307.95,254.43 L322.15,240.23 M307.95,264.33 L322.15,250.13 M307.95,274.23 L322.15,260.03 M307.95,284.13 L322.15,269.93 M307.95,294.03 L322.15,279.83 M307.95,303.93 L322.15,289.73 M307.95,313.83 L322.15,299.63 M307.95,323.73 L322.15,309.53 M307.95,333.63 L322.15,319.43 M307.95,343.53 L322.15,329.33" stroke="#5e4530" stroke-width="0.95" clip-path="url(#hc2)" fill="none"/>
<rect x="309.95" y="202.83" width="10.2" height="127.97" fill="none" stroke="#9a8068" stroke-width="0.7"/>
<text x="315.05" y="201.33" font-size="6.6" text-anchor="middle" fill="#222">0.96</text>
<rect x="322.55" y="230.43" width="10.2" height="100.37" fill="url(#dots)" stroke="#9fbfa8" stroke-width="0.7"/>
<text x="327.65" y="228.93" font-size="6.6" text-anchor="middle" fill="#222">0.753</text>
<rect x="335.45" y="197.77" width="10.2" height="133.03" fill="url(#cross)" stroke="#b0a4c0" stroke-width="0.7"/>
<text x="340.55" y="196.27" font-size="6.6" text-anchor="middle" fill="#222">0.998</text>
<clipPath id="hc3"><rect x="368.9" y="197.9" width="10.2" height="132.9"/></clipPath>
<rect x="368.9" y="197.9" width="10.2" height="132.9" fill="#ffd8b2" stroke="none" stroke-width="0"/>
<path d="M366.9,209.9 L381.1,195.7 M366.9,219.8 L381.1,205.6 M366.9,229.7 L381.1,215.5 M366.9,239.6 L381.1,225.4 M366.9,249.5 L381.1,235.3 M366.9,259.4 L381.1,245.2 M366.9,269.3 L381.1,255.1 M366.9,279.2 L381.1,265 M366.9,289.1 L381.1,274.9 M366.9,299 L381.1,284.8 M366.9,308.9 L381.1,294.7 M366.9,318.8 L381.1,304.6 M366.9,328.7 L381.1,314.5 M366.9,338.6 L381.1,324.4" stroke="#5e4530" stroke-width="0.95" clip-path="url(#hc3)" fill="none"/>
<rect x="368.9" y="197.9" width="10.2" height="132.9" fill="none" stroke="#9a8068" stroke-width="0.7"/>
<text x="374" y="196.4" font-size="6.6" text-anchor="middle" fill="#222">0.997</text>
<rect x="381.5" y="255.62" width="10.2" height="75.18" fill="url(#dots)" stroke="#9fbfa8" stroke-width="0.7"/>
<text x="386.6" y="254.12" font-size="6.6" text-anchor="middle" fill="#222">0.564</text>
<rect x="394.4" y="197.5" width="10.2" height="133.3" fill="url(#cross)" stroke="#b0a4c0" stroke-width="0.7"/>
<text x="399.5" y="196" font-size="6.6" text-anchor="middle" fill="#222">1</text>
<clipPath id="hc4"><rect x="427.85" y="197.9" width="10.2" height="132.9"/></clipPath>
<rect x="427.85" y="197.9" width="10.2" height="132.9" fill="#ffd8b2" stroke="none" stroke-width="0"/>
<path d="M425.85,209.9 L440.05,195.7 M425.85,219.8 L440.05,205.6 M425.85,229.7 L440.05,215.5 M425.85,239.6 L440.05,225.4 M425.85,249.5 L440.05,235.3 M425.85,259.4 L440.05,245.2 M425.85,269.3 L440.05,255.1 M425.85,279.2 L440.05,265 M425.85,289.1 L440.05,274.9 M425.85,299 L440.05,284.8 M425.85,308.9 L440.05,294.7 M425.85,318.8 L440.05,304.6 M425.85,328.7 L440.05,314.5 M425.85,338.6 L440.05,324.4" stroke="#5e4530" stroke-width="0.95" clip-path="url(#hc4)" fill="none"/>
<rect x="427.85" y="197.9" width="10.2" height="132.9" fill="none" stroke="#9a8068" stroke-width="0.7"/>
<text x="432.95" y="196.4" font-size="6.6" text-anchor="middle" fill="#222">0.997</text>
<rect x="440.45" y="255.62" width="10.2" height="75.18" fill="url(#dots)" stroke="#9fbfa8" stroke-width="0.7"/>
<text x="445.55" y="254.12" font-size="6.6" text-anchor="middle" fill="#222">0.564</text>
<rect x="453.35" y="197.5" width="10.2" height="133.3" fill="url(#cross)" stroke="#b0a4c0" stroke-width="0.7"/>
<text x="458.45" y="196" font-size="6.6" text-anchor="middle" fill="#222">1</text>
<clipPath id="hc5"><rect x="486.8" y="197.9" width="10.2" height="132.9"/></clipPath>
<rect x="486.8" y="197.9" width="10.2" height="132.9" fill="#ffd8b2" stroke="none" stroke-width="0"/>
<path d="M484.8,209.9 L499,195.7 M484.8,219.8 L499,205.6 M484.8,229.7 L499,215.5 M484.8,239.6 L499,225.4 M484.8,249.5 L499,235.3 M484.8,259.4 L499,245.2 M484.8,269.3 L499,255.1 M484.8,279.2 L499,265 M484.8,289.1 L499,274.9 M484.8,299 L499,284.8 M484.8,308.9 L499,294.7 M484.8,318.8 L499,304.6 M484.8,328.7 L499,314.5 M484.8,338.6 L499,324.4" stroke="#5e4530" stroke-width="0.95" clip-path="url(#hc5)" fill="none"/>
<rect x="486.8" y="197.9" width="10.2" height="132.9" fill="none" stroke="#9a8068" stroke-width="0.7"/>
<text x="491.9" y="196.4" font-size="6.6" text-anchor="middle" fill="#222">0.997</text>
<rect x="499.4" y="317.07" width="10.2" height="13.73" fill="url(#dots)" stroke="#9fbfa8" stroke-width="0.7"/>
<text x="504.5" y="315.57" font-size="6.6" text-anchor="middle" fill="#222">0.103</text>
<rect x="512.3" y="197.63" width="10.2" height="133.17" fill="url(#cross)" stroke="#b0a4c0" stroke-width="0.7"/>
<text x="517.4" y="196.13" font-size="6.6" text-anchor="middle" fill="#222">0.999</text>
<line x1="239.2" y1="183.8" x2="239.2" y2="331.8" stroke="#3a3a3a" stroke-width="1.1"/>
<line x1="238.7" y1="331.2" x2="535" y2="331.2" stroke="#3a3a3a" stroke-width="1.2"/>
<line x1="235.4" y1="330.8" x2="239.2" y2="330.8" stroke="#3a3a3a" stroke-width="1"/>
<text x="233" y="334" font-size="10.8" text-anchor="end" fill="#1a1a1a">0.0</text>
<line x1="235.4" y1="304.14" x2="239.2" y2="304.14" stroke="#3a3a3a" stroke-width="1"/>
<text x="233" y="307.34" font-size="10.8" text-anchor="end" fill="#1a1a1a">0.2</text>
<line x1="235.4" y1="277.48" x2="239.2" y2="277.48" stroke="#3a3a3a" stroke-width="1"/>
<text x="233" y="280.68" font-size="10.8" text-anchor="end" fill="#1a1a1a">0.4</text>
<line x1="235.4" y1="250.82" x2="239.2" y2="250.82" stroke="#3a3a3a" stroke-width="1"/>
<text x="233" y="254.02" font-size="10.8" text-anchor="end" fill="#1a1a1a">0.6</text>
<line x1="235.4" y1="224.16" x2="239.2" y2="224.16" stroke="#3a3a3a" stroke-width="1"/>
<text x="233" y="227.36" font-size="10.8" text-anchor="end" fill="#1a1a1a">0.8</text>
<line x1="235.4" y1="197.5" x2="239.2" y2="197.5" stroke="#3a3a3a" stroke-width="1"/>
<text x="233" y="200.7" font-size="10.8" text-anchor="end" fill="#1a1a1a">1.0</text>
<line x1="237.2" y1="317.47" x2="239.2" y2="317.47" stroke="#3a3a3a" stroke-width="1"/>
<line x1="237.2" y1="290.81" x2="239.2" y2="290.81" stroke="#3a3a3a" stroke-width="1"/>
<line x1="237.2" y1="264.15" x2="239.2" y2="264.15" stroke="#3a3a3a" stroke-width="1"/>
<line x1="237.2" y1="237.49" x2="239.2" y2="237.49" stroke="#3a3a3a" stroke-width="1"/>
<line x1="237.2" y1="210.83" x2="239.2" y2="210.83" stroke="#3a3a3a" stroke-width="1"/>
<line x1="237.2" y1="184.17" x2="239.2" y2="184.17" stroke="#3a3a3a" stroke-width="1"/>
<line x1="268.7" y1="331.2" x2="268.7" y2="334.2" stroke="#3a3a3a" stroke-width="1"/>
<line x1="298.2" y1="331.2" x2="298.2" y2="333.2" stroke="#3a3a3a" stroke-width="1"/>
<text x="268.7" y="345.2" font-size="9.3" text-anchor="middle" font-weight="bold" stroke="#1a1a1a" stroke-width="0.3" fill="#1a1a1a">Scaffold1</text>
<line x1="327.65" y1="331.2" x2="327.65" y2="334.2" stroke="#3a3a3a" stroke-width="1"/>
<line x1="357.15" y1="331.2" x2="357.15" y2="333.2" stroke="#3a3a3a" stroke-width="1"/>
<text x="327.65" y="345.2" font-size="9.3" text-anchor="middle" font-weight="bold" stroke="#1a1a1a" stroke-width="0.3" fill="#1a1a1a">Scaffold2</text>
<line x1="386.6" y1="331.2" x2="386.6" y2="334.2" stroke="#3a3a3a" stroke-width="1"/>
<line x1="416.1" y1="331.2" x2="416.1" y2="333.2" stroke="#3a3a3a" stroke-width="1"/>
<text x="386.6" y="345.2" font-size="9.3" text-anchor="middle" font-weight="bold" stroke="#1a1a1a" stroke-width="0.3" fill="#1a1a1a">Scaffold3</text>
<line x1="445.55" y1="331.2" x2="445.55" y2="334.2" stroke="#3a3a3a" stroke-width="1"/>
<line x1="475.05" y1="331.2" x2="475.05" y2="333.2" stroke="#3a3a3a" stroke-width="1"/>
<text x="445.55" y="345.2" font-size="9.3" text-anchor="middle" font-weight="bold" stroke="#1a1a1a" stroke-width="0.3" fill="#1a1a1a">Scaffold4</text>
<line x1="504.5" y1="331.2" x2="504.5" y2="334.2" stroke="#3a3a3a" stroke-width="1"/>
<text x="504.5" y="345.2" font-size="9.3" text-anchor="middle" font-weight="bold" stroke="#1a1a1a" stroke-width="0.3" fill="#1a1a1a">Scaffold5</text>
<text x="215.6" y="257" font-size="9.6" text-anchor="middle" font-weight="bold" stroke="#1a1a1a" stroke-width="0.3" fill="#1a1a1a" transform="rotate(-90 215.6 257)">Percentage</text>
<text x="213.5" y="178" font-size="11.5" text-anchor="start" fill="#1a1a1a">(E)</text>
<rect x="377.4" y="176.6" width="148.6" height="11.6" fill="#fff" stroke="#b0b0b0" stroke-width="0.7"/>
<clipPath id="hc6"><rect x="379.2" y="178.2" width="18.5" height="8.4"/></clipPath>
<rect x="379.2" y="178.2" width="18.5" height="8.4" fill="#ffd8b2" stroke="none" stroke-width="0"/>
<path d="M377.2,174 L399.7,151.5 M377.2,183.4 L399.7,160.9 M377.2,192.8 L399.7,170.3 M377.2,202.2 L399.7,179.7" stroke="#5e4530" stroke-width="0.95" clip-path="url(#hc6)" fill="none"/>
<rect x="379.2" y="178.2" width="18.5" height="8.4" fill="none" stroke="#9a8068" stroke-width="0.7"/>
<text x="401" y="185.6" font-size="8.6" text-anchor="start" fill="#1a1a1a">Valid</text>
<rect x="422.4" y="178.4" width="18.5" height="8" fill="url(#dots)" stroke="#aaa" stroke-width="0.5"/>
<text x="444" y="185.6" font-size="8.6" text-anchor="start" fill="#1a1a1a">Unique</text>
<rect x="474.4" y="178.4" width="18" height="8" fill="url(#cross)" stroke="#aaa" stroke-width="0.5"/>
<text x="495.6" y="185.6" font-size="8.6" text-anchor="start" fill="#1a1a1a">Novelty</text>
</svg></body></html>
